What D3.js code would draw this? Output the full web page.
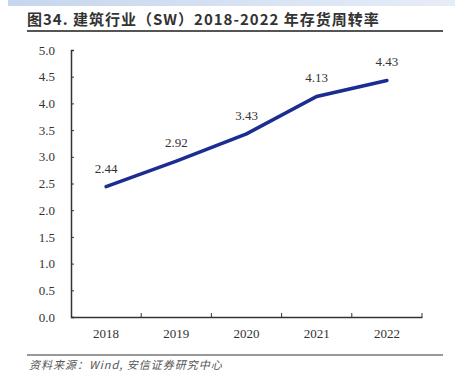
<!DOCTYPE html>
<html>
<head>
<meta charset="utf-8">
<script src="https://cdn.jsdelivr.net/npm/d3@7"></script>
<style>
  body { margin: 0; background: #fff; }
  svg { display: block; }
  .tick text { font-family: "Liberation Serif", "Times New Roman", serif; font-size: 13px; fill: #333; }
</style>
</head>
<body>
<svg id="chart" width="455" height="376"></svg>
<script>
// data
let years  = ["2018", "2019", "2020", "2021", "2022"];
let turns  = [2.44, 2.92, 3.43, 4.13, 4.43];
let yTicks = [0, 0.5, 1, 1.5, 2, 2.5, 3, 3.5, 4, 4.5, 5];

let svg = d3.select("#chart");

let margin = {top: 50, right: 33, bottom: 59, left: 71},
    width  = 455 - margin.left - margin.right,
    height = 376 - margin.top - margin.bottom;

let x = d3.scaleBand().domain(years).range([0, width]),
    y = d3.scaleLinear().domain([0, 5]).range([height, 0]);

// top banner
let grad = svg.append("defs").append("linearGradient").attr("id", "banner");
grad.append("stop").attr("offset", "0%").attr("stop-color", "#c5d6ee");
grad.append("stop").attr("offset", "100%").attr("stop-color", "#e7edf7");
svg.append("rect").attr("x", 8).attr("y", 0).attr("width", 447).attr("height", 6).attr("fill", "url(#banner)");

// title
svg.append("text")
    .attr("x", 27).attr("y", 25)
    .style("font-family", "'Noto Sans CJK SC', sans-serif")
    .style("font-size", "15px").style("font-weight", "bold").style("fill", "#333")
    .style("letter-spacing", "1px")
    .text("图34. 建筑行业（SW）2018-2022 年存货周转率");

svg.append("line").attr("x1", 27).attr("x2", 443).attr("y1", 31).attr("y2", 31)
    .attr("stroke", "#555").attr("stroke-width", 2);

let g = svg.append("g").attr("transform", `translate(${margin.left}, ${margin.top})`);

// y axis
let yAxis = g.append("g")
    .call(d3.axisLeft(y).tickValues(yTicks).tickFormat(d3.format(".1f")).tickSize(-3).tickPadding(16));
yAxis.select(".domain").attr("stroke", "#333").attr("stroke-width", 1.5);
yAxis.selectAll(".tick line").attr("stroke", "#333");

// x axis
let xAxis = g.append("g")
    .attr("transform", `translate(0, ${height})`)
    .call(d3.axisBottom(x).tickSize(0).tickPadding(12));
xAxis.select(".domain").attr("stroke", "#333").attr("stroke-width", 1.5);
xAxis.selectAll(".tick line").remove();
// boundary ticks between categories
g.selectAll("line.xb")
    .data(years)
    .enter().append("line")
    .classed("xb", true)
    .attr("x1", (d) => x(d) + x.bandwidth())
    .attr("x2", (d) => x(d) + x.bandwidth())
    .attr("y1", height).attr("y2", height - 4)
    .attr("stroke", "#333").attr("stroke-width", 1);

// line
let pts = years.map((d, i) => ({year: d, v: turns[i]}));
g.append("path")
    .datum(pts)
    .attr("fill", "none")
    .attr("stroke", "#1c2d91")
    .attr("stroke-width", 3.5)
    .attr("stroke-linecap", "round")
    .attr("d", d3.line().x((d) => x(d.year) + x.bandwidth() / 2).y((d) => y(d.v)));

// data labels
g.selectAll("text.lbl")
    .data(pts)
    .enter().append("text")
    .classed("lbl", true)
    .attr("x", (d) => x(d.year) + x.bandwidth() / 2)
    .attr("y", (d) => y(d.v) - 14)
    .attr("text-anchor", "middle")
    .style("font-family", "'Liberation Serif', serif")
    .style("font-size", "13px").style("fill", "#333")
    .text((d) => d3.format(".2f")(d.v));

// source
svg.append("line").attr("x1", 27).attr("x2", 443).attr("y1", 355).attr("y2", 355)
    .attr("stroke", "#333").attr("stroke-width", 1.2);
svg.append("text")
    .attr("x", 29).attr("y", 369)
    .style("font-family", "'Noto Sans CJK SC', sans-serif")
    .style("font-size", "11px").style("font-style", "italic").style("fill", "#555")
    .style("letter-spacing", "1px")
    .text("资料来源：Wind, 安信证券研究中心");
</script>
</body>
</html>
